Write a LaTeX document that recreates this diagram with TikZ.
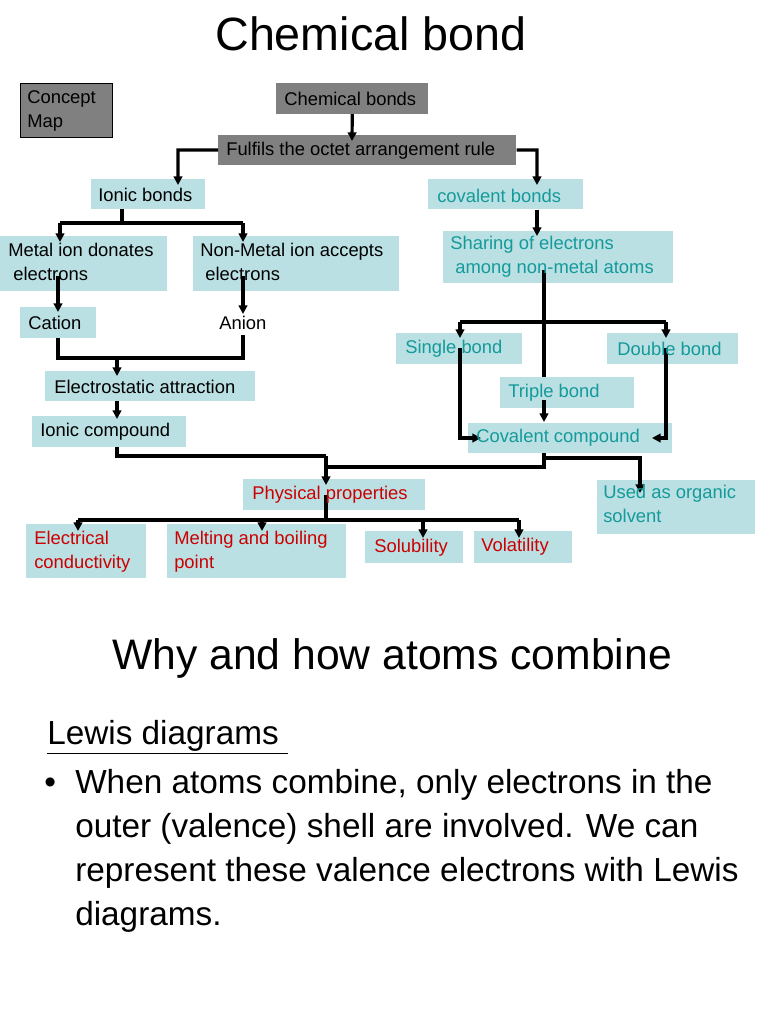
\documentclass[tikz,border=0pt]{standalone}
\usepackage{fontspec}
\setmainfont{Liberation Sans}
\usetikzlibrary{arrows.meta}
\definecolor{lb}{HTML}{BAE0E3}
\definecolor{tl}{HTML}{149A9A}
\definecolor{rd}{HTML}{CC0000}
\definecolor{gr}{HTML}{808080}
\begin{document}
\begin{tikzpicture}[x=0.75pt,y=-0.75pt,
 box/.style={fill=lb,inner sep=0pt},
 gbox/.style={fill=gr,inner sep=0pt},
 ln/.style={line width=2.4pt},
 ar/.style={ln,-{Triangle[length=6.5pt,width=6.5pt]}}]
\useasboundingbox (0,0) rectangle (768,1024);
\node[font=\fontsize{35}{40}\selectfont] (t1) at (371,34) {Chemical bond};
% boxes
\node[gbox,draw=black,minimum width=69pt,minimum height=40.5pt,anchor=north west] (cm) at (20,83) {};
\node[gbox,minimum width=114pt,minimum height=23pt,anchor=north west] (cb) at (276,83) {};
\node[gbox,minimum width=223.5pt,minimum height=22pt,anchor=north west] (ff) at (218,135) {};
\node[box,minimum width=85.5pt,minimum height=22.5pt,anchor=north west] (ib) at (91,179) {};
\node[box,minimum width=116pt,minimum height=22.5pt,anchor=north west] (vb) at (428,179) {};
\node[box,minimum width=125pt,minimum height=41pt,anchor=north west] (md) at (0,236) {};
\node[box,minimum width=154pt,minimum height=41pt,anchor=north west] (nm) at (193,236) {};
\node[box,minimum width=172pt,minimum height=39pt,anchor=north west] (sh) at (443,231) {};
\node[box,minimum width=57pt,minimum height=23pt,anchor=north west] (ca) at (20,307) {};
\node[box,minimum width=94.5pt,minimum height=23pt,anchor=north west] (sb) at (396,333) {};
\node[box,minimum width=98pt,minimum height=23pt,anchor=north west] (db) at (607,333) {};
\node[box,minimum width=100pt,minimum height=23pt,anchor=north west] (tb) at (500,377) {};
\node[box,minimum width=157pt,minimum height=22.5pt,anchor=north west] (es) at (45,371) {};
\node[box,minimum width=115.5pt,minimum height=23pt,anchor=north west] (ic) at (32,416) {};
\node[box,minimum width=153pt,minimum height=22.5pt,anchor=north west] (cc) at (468,423) {};
\node[box,minimum width=136.5pt,minimum height=23pt,anchor=north west] (pp) at (243,479) {};
\node[box,minimum width=118.5pt,minimum height=40pt,anchor=north west] (uo) at (597,480) {};
\node[box,minimum width=90pt,minimum height=40pt,anchor=north west] (ec) at (26,524) {};
\node[box,minimum width=134pt,minimum height=40pt,anchor=north west] (mb) at (167,524) {};
\node[box,minimum width=73pt,minimum height=24pt,anchor=north west] (so) at (365,531) {};
\node[box,minimum width=73pt,minimum height=24pt,anchor=north west] (vo) at (474,531) {};
% connectors
\coordinate (a1) at (178,150); \coordinate (a2) at (537,150);
\draw[ar] (cb.south) -- (352,141);
\draw[ar] (ff.west) -- (a1) -- (178,185);
\draw[ar] (ff.east) -- (a2) -- (537,185);
\draw[ar] (vb.south -| 537,0) -- (537,236);
\draw[ln] (122,209) -- (122,223);
\draw[ln] (60,223) -- (243,223);
\draw[ar] (60,223) -- (60,242);
\draw[ar] (243,223) -- (243,242);
\draw[ar] (58,276) -- (58,312);
\draw[ar] (243,276) -- (243,314);
\draw[ln] (58,338) -- (58,358) -- (243,358) -- (243,335);
\draw[ar] (117,358) -- (117,376);
\draw[ar] (117,401) -- (117,419);
\draw[ln] (117,447) -- (117,456) -- (326,456);
\draw[ar] (326,456) -- (326,485);
\draw[ln] (544,453) -- (544,467) -- (326,467);
\draw[ar] (544,458) -- (640,458) -- (640,493);
\draw[ln] (326,495) -- (326,520);
\draw[ln] (78,520) -- (519,520);
\foreach \x/\y in {78/531,262/531,423/538,519/538} \draw[ar] (\x,520) -- (\x,\y);
\draw[ln] (544,270) -- (544,377);
\draw[ln] (460,322) -- (666,322);
\draw[ar] (460,322) -- (460,338);
\draw[ar] (666,322) -- (666,338);
\draw[ar] (544,400) -- (544,422);
\draw[ar] (460,348) -- (460,438) -- (481,438);
\draw[ar] (666,348) -- (666,438) -- (652,438);
% texts
\tikzset{tx/.style={anchor=west,inner sep=0pt,font=\fontsize{13.8}{18}\selectfont,align=left}}
\node[tx,anchor=north west] (cmt) at (27,90) {Concept\\Map};
\node[tx] (l1) at (284,99) {Chemical bonds};
\node[tx] (l2) at (226,151) {Fulfils the octet arrangement rule};
\node[tx] (l3) at (98,195) {Ionic bonds};
\node[tx,text=tl] (l4) at (437,196) {covalent bonds};
\node[tx,anchor=north west] (l5) at (8,243) {Metal ion donates\\\ electrons};
\node[tx,anchor=north west] (l6) at (200,243) {Non-Metal ion accepts\\\ electrons};
\node[tx,anchor=north west,text=tl] (l7) at (450,236) {Sharing of electrons\\\ among non-metal atoms};
\node[tx] (l8) at (28,323) {Cation};
\node[tx] (l9) at (219,323) {Anion};
\node[tx,text=tl] (l10) at (405,349) {Single bond};
\node[tx,text=tl] (l11) at (617,349) {Double bond};
\node[tx,text=tl] (l12) at (508,393) {Triple bond};
\node[tx] (l13) at (54,387) {Electrostatic attraction};
\node[tx] (l14) at (40,432) {Ionic compound};
\node[tx,text=tl] (l15) at (476,438) {Covalent compound};
\node[tx,text=rd] (l16) at (252,495) {Physical properties};
\node[tx,anchor=north west,text=tl] (l17) at (603,485) {Used as organic\\solvent};
\node[tx,anchor=north west,text=rd] (l18) at (34,531) {Electrical\\conductivity};
\node[tx,anchor=north west,text=rd] (l19) at (174,531) {Melting and boiling\\point};
\node[tx,text=rd] (l20) at (374,548) {Solubility};
\node[tx,text=rd] (l21) at (481,547) {Volatility};
% bottom text
\node[font=\fontsize{32}{36}\selectfont] (t2) at (392,658) {Why and how atoms combine};
\node[anchor=west,inner sep=0pt,font=\fontsize{25}{30}\selectfont] (t3) at (47,737) {\underline{Lewis diagrams\ }};
\node[anchor=west,inner sep=0pt,font=\fontsize{25}{30}\selectfont] (t4) at (44,786) {•};
\node[anchor=north west,inner sep=0pt,align=left,font=\fontsize{25}{33}\selectfont] (t5) at (75,769) {When atoms combine, only electrons in the\\outer (valence) shell are involved. We can\\represent these valence electrons with Lewis\\diagrams.};
\end{tikzpicture}
\end{document}
